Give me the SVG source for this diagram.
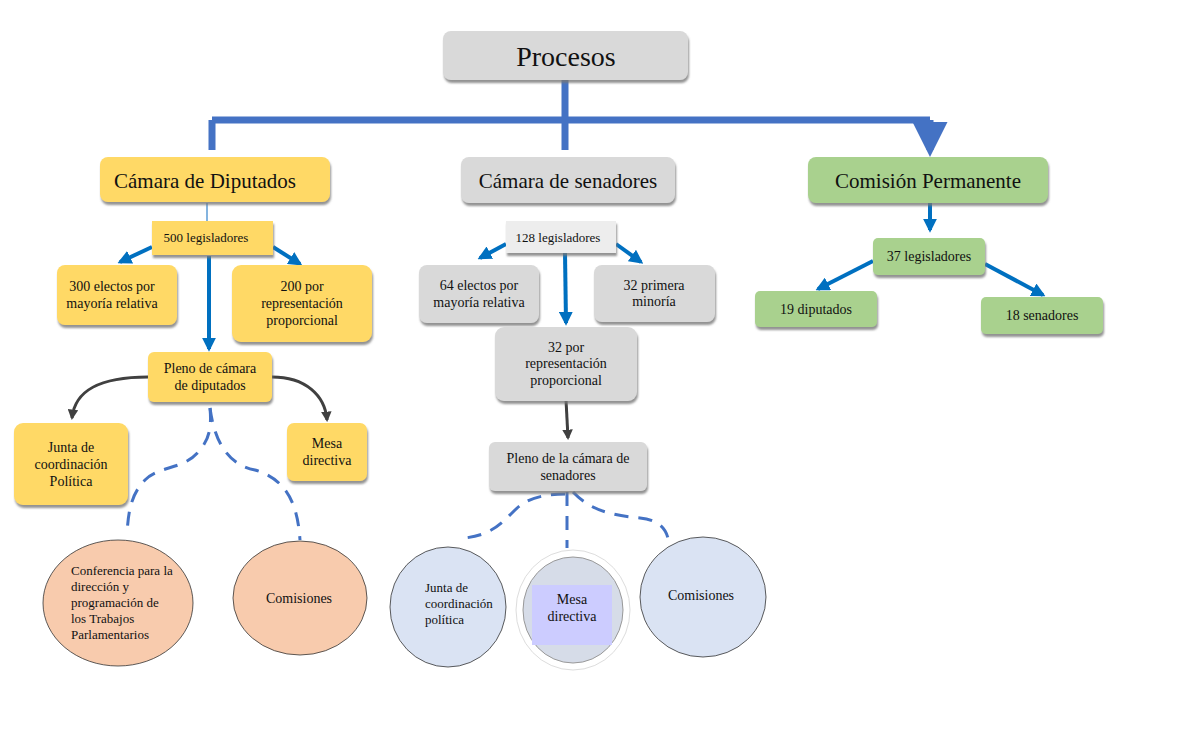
<svg xmlns="http://www.w3.org/2000/svg" width="1200" height="729" viewBox="0 0 1200 729">
<defs>
<style>
text{font-family:"Liberation Serif","Times New Roman",serif;fill:#111;text-anchor:middle}
.y{fill:#FFD966}.g{fill:#D9D9D9}.gr{fill:#A9D18E}
.box{filter:url(#sh)}
.bl{stroke:#0070C0;stroke-width:4;fill:none;marker-end:url(#ab)}
.dk{stroke:#404040;stroke-width:3;fill:none;marker-end:url(#ad)}
.ds{stroke:#4472C4;stroke-width:3;fill:none;stroke-dasharray:14 10}
</style>
<filter id="sh" x="-10%" y="-10%" width="130%" height="140%"><feDropShadow dx="1" dy="3" stdDeviation="1" flood-color="#777" flood-opacity="0.8"/></filter>
<marker id="ab" viewBox="0 0 10 10" refX="8" refY="5" markerWidth="3.5" markerHeight="3.5" orient="auto"><path d="M0,0L10,5L0,10z" fill="#0070C0"/></marker>
<marker id="ad" viewBox="0 0 10 10" refX="8" refY="5" markerWidth="3.5" markerHeight="3.5" orient="auto"><path d="M0,0L10,5L0,10z" fill="#404040"/></marker>
<marker id="at" viewBox="0 0 10 10" refX="8" refY="5" markerWidth="5" markerHeight="5" orient="auto"><path d="M0,0L10,5L0,10z" fill="#4472C4"/></marker>
</defs>
<rect width="1200" height="729" fill="#fff"/>
<g id="connectors">
<path d="M565,80V120M212,120H930" stroke="#4472C4" stroke-width="7" fill="none"/>
<path d="M212,120V150M565,120V150M930,120V150" stroke="#4472C4" stroke-width="7" fill="none" marker-end="url(#at)"/>
<path d="M207,203V221" stroke="#5B9BD5" stroke-width="1.5" fill="none"/>
<path class="bl" d="M152,247L120,262"/>
<path class="bl" d="M273,247L300,264"/>
<path class="bl" d="M209,256V349"/>
<path class="dk" d="M148,377C100,377 75,390 72,418"/>
<path class="dk" d="M272,377C305,377 325,395 327,420"/>
<path class="ds" d="M210,408C212,430 208,440 200,450C185,470 160,465 145,480C130,495 128,515 127,535"/>
<path class="ds" d="M210,408C215,445 230,465 255,470C290,480 298,510 300,540"/>
<path class="bl" d="M506,244L480,258"/>
<path class="bl" d="M616,244L641,262"/>
<path class="bl" d="M565,253L566,323"/>
<path class="dk" d="M566,400L568,438"/>
<path class="ds" d="M565,494C540,494 525,500 515,510C500,525 490,535 465,538"/>
<path class="ds" d="M567,492V548"/>
<path class="ds" d="M573,492C590,510 610,515 640,518C660,520 668,530 669,545"/>
<path class="bl" d="M930,203V230"/>
<path class="bl" d="M873,261L818,289"/>
<path class="bl" d="M985,264L1043,295"/>
</g>
<g id="procesos"><rect class="box g" x="443" y="31" width="245" height="49" rx="8"/><text x="566" y="66" font-size="28">Procesos</text></g>
<g id="diputados"><rect class="box y" x="100" y="157" width="230" height="45" rx="8"/><text x="205" y="188" font-size="21">Cámara de Diputados</text></g>
<g id="senadores"><rect class="box g" x="461" y="157" width="214" height="46" rx="8"/><text x="568" y="188" font-size="21">Cámara de senadores</text></g>
<g id="comision"><rect class="box gr" x="808" y="157" width="240" height="46" rx="8"/><text x="928" y="188" font-size="21">Comisión Permanente</text></g>
<g id="d500"><rect class="y" x="152" y="221" width="121" height="34" style="filter:url(#sh)"/><text x="206" y="242" font-size="13">500 legisladores</text></g>
<g id="d300"><rect class="box y" x="57" y="265" width="120" height="60" rx="8"/><text x="112" y="291" font-size="14">300 electos por</text><text x="112" y="308" font-size="14">mayoría relativa</text></g>
<g id="d200"><rect class="box y" x="232" y="265" width="140" height="77" rx="9"/><text x="302" y="291" font-size="14">200 por</text><text x="302" y="308" font-size="14">representación</text><text x="302" y="325" font-size="14">proporcional</text></g>
<g id="dpleno"><rect class="box y" x="148" y="352" width="124" height="50" rx="6"/><text x="210" y="373" font-size="14">Pleno de cámara</text><text x="210" y="390" font-size="14">de diputados</text></g>
<g id="djunta"><rect class="box y" x="14" y="423" width="114" height="82" rx="9"/><text x="71" y="452" font-size="14">Junta de</text><text x="71" y="469" font-size="14">coordinación</text><text x="71" y="486" font-size="14">Política</text></g>
<g id="dmesa"><rect class="box y" x="287" y="423" width="80" height="58" rx="7"/><text x="327" y="448" font-size="14">Mesa</text><text x="327" y="465" font-size="14">directiva</text></g>
<g id="dconf"><ellipse cx="118" cy="603" rx="75" ry="63" fill="#F8CBAD" stroke="#333" stroke-width="0.8"/>
<g font-size="13" style="text-anchor:start"><text x="71" y="575" style="text-anchor:start">Conferencia para la</text><text x="71" y="591" style="text-anchor:start">dirección y</text><text x="71" y="607" style="text-anchor:start">programación de</text><text x="71" y="623" style="text-anchor:start">los Trabajos</text><text x="71" y="639" style="text-anchor:start">Parlamentarios</text></g></g>
<g id="dcom"><ellipse cx="300" cy="598" rx="67" ry="57" fill="#F8CBAD" stroke="#333" stroke-width="0.8"/><text x="299" y="603" font-size="14">Comisiones</text></g>
<g id="s128"><rect fill="#EDEDED" x="506" y="221" width="110" height="32" style="filter:url(#sh)"/><text x="558" y="242" font-size="13">128 legisladores</text></g>
<g id="s64"><rect class="box g" x="419" y="265" width="120" height="58" rx="8"/><text x="479" y="290" font-size="14">64 electos por</text><text x="479" y="307" font-size="14">mayoría relativa</text></g>
<g id="s32a"><rect class="box g" x="594" y="265" width="121" height="57" rx="8"/><text x="654" y="290" font-size="14">32 primera</text><text x="654" y="306" font-size="14">minoría</text></g>
<g id="s32b"><rect class="box g" x="495" y="327" width="142" height="74" rx="9"/><text x="566" y="352" font-size="14">32 por</text><text x="566" y="368" font-size="14">representación</text><text x="566" y="385" font-size="14">proporcional</text></g>
<g id="spleno"><rect class="box g" x="489" y="442" width="158" height="49" rx="6"/><text x="568" y="463" font-size="14">Pleno de la cámara de</text><text x="568" y="480" font-size="14">senadores</text></g>
<g id="sjunta"><ellipse cx="448" cy="607" rx="58" ry="60" fill="#DAE3F3" stroke="#333" stroke-width="0.8"/>
<text x="425" y="592" font-size="13" style="text-anchor:start">Junta de</text><text x="425" y="608" font-size="13" style="text-anchor:start">coordinación</text><text x="425" y="624" font-size="13" style="text-anchor:start">política</text></g>
<g id="smesa"><ellipse cx="573" cy="610" rx="57" ry="60" fill="#fff" stroke="#ddd"/><ellipse cx="573" cy="610" rx="50" ry="53" fill="#D6DCE8" stroke="#999"/><rect x="532" y="585" width="80" height="60" fill="#CCCCFF"/><text x="572" y="604" font-size="14">Mesa</text><text x="572" y="621" font-size="14">directiva</text></g>
<g id="scom"><ellipse cx="703" cy="597" rx="63" ry="60" fill="#DAE3F3" stroke="#333" stroke-width="0.8"/><text x="701" y="600" font-size="14">Comisiones</text></g>
<g id="c37"><rect class="box gr" x="873" y="238" width="112" height="37" rx="5"/><text x="929" y="261" font-size="14">37 legisladores</text></g>
<g id="c19"><rect class="box gr" x="755" y="291" width="122" height="36" rx="5"/><text x="816" y="314" font-size="14">19 diputados</text></g>
<g id="c18"><rect class="box gr" x="981" y="297" width="122" height="37" rx="5"/><text x="1042" y="320" font-size="14">18 senadores</text></g>
</svg>
